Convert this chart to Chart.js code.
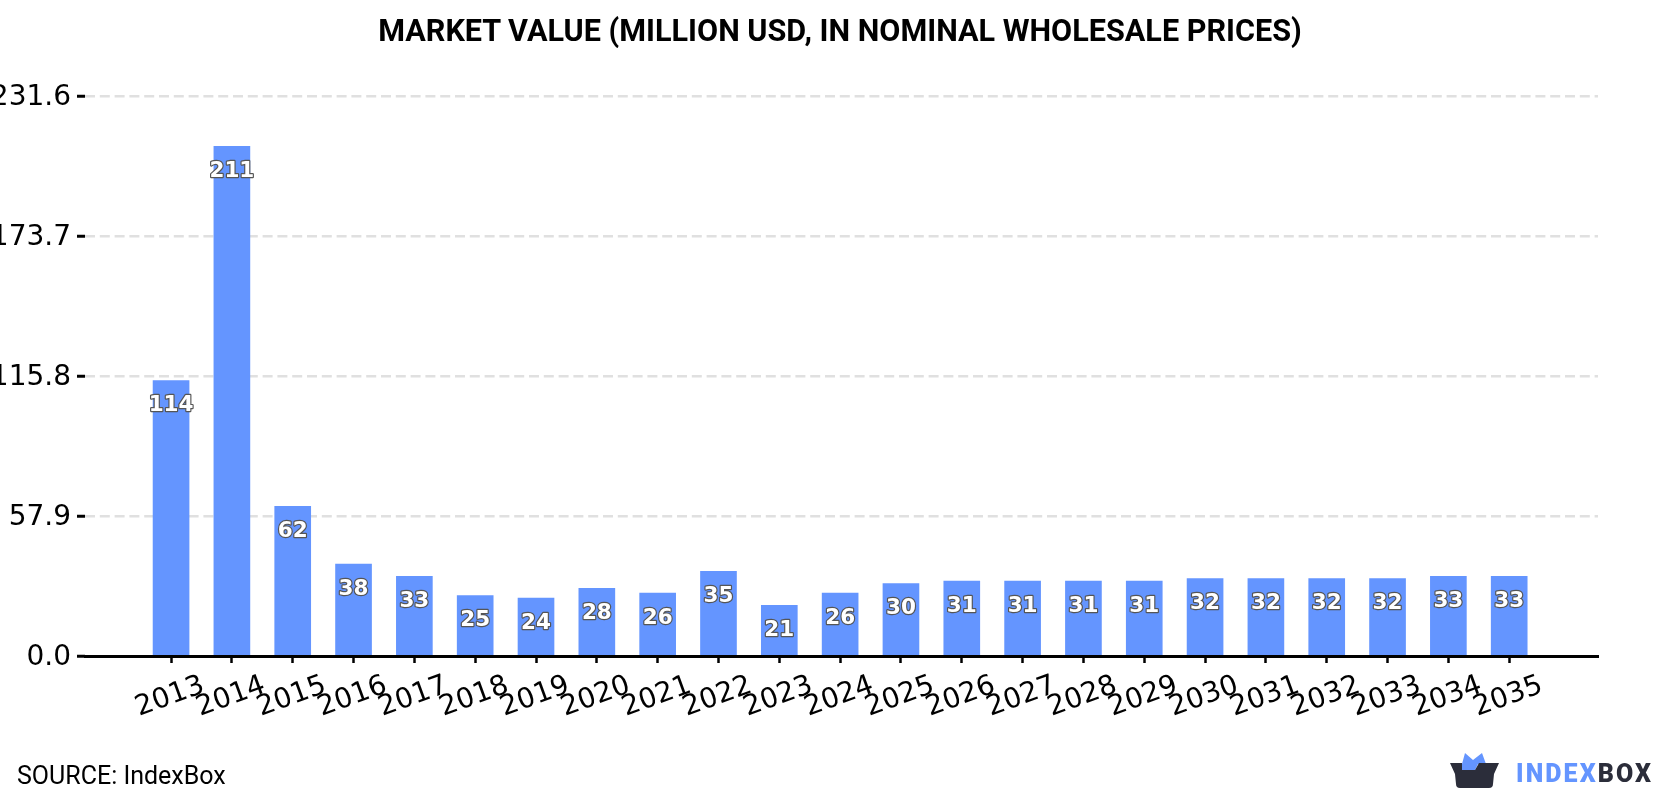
<!DOCTYPE html>
<html>
<head>
<meta charset="utf-8">
<title>Market value</title>
<script src="https://cdn.jsdelivr.net/npm/chart.js@4"></script>
<style>
    html, body { margin: 0; padding: 0; background: #fff; overflow: hidden; }
    #wrap { position: relative; width: 1680px; height: 800px; }
    #chart-title { position: absolute; left: 0; width: 1680px; top: 12px; text-align: center; font: bold 30.6px/38px Roboto, sans-serif; color: #000; }
    #source { position: absolute; left: 17px; top: 761px; font: 25px Roboto, sans-serif; color: #000; line-height: 30px; }
    #logo { position: absolute; left: 1450px; top: 750px; }
    #logo-text { position: absolute; left: 1516px; top: 758px; font: 900 25px/32px Roboto, sans-serif; letter-spacing: 2.1px; color: #6495ff; }
    #logo-text span { color: #2b2d3a; }
</style>
</head>
<body>
<div id="wrap">
    <canvas id="chart" width="1680" height="800"></canvas>
    <div id="chart-title">MARKET VALUE (MILLION USD, IN NOMINAL WHOLESALE PRICES)</div>
    <div id="source">SOURCE: IndexBox</div>
    <svg id="logo" width="50" height="42" viewBox="0 0 50 42">
        <path d="M12 14 L15 3 L23 10 L32 3 L36 14 L28 14 L25 20 L12 20 Z" fill="#6495ff"/>
        <path d="M0 13 L12 13 L12 20 L25 20 L29 13 L49 13 L44 24 L43 34 Q43 38 39 38 L10 38 Q6 38 6 34 L5 24 Z" fill="#2b2d3a"/>
    </svg>
    <div id="logo-text">INDEX<span>BOX</span></div>
</div>
<script>
const years = [2013, 2014, 2015, 2016, 2017, 2018, 2019, 2020, 2021, 2022, 2023, 2024,
               2025, 2026, 2027, 2028, 2029, 2030, 2031, 2032, 2033, 2034, 2035];
const values = [114, 211, 62, 38, 33, 25, 24, 28, 26, 35, 21, 26,
                30, 31, 31, 31, 31, 32, 32, 32, 32, 33, 33];
const yTicks = [0, 57.9, 115.8, 173.7, 231.6];

const TICK_FONT = '28px "DejaVu Sans"';

// Year labels sit centred under their tick and rotated, which the built-in ticks can't do
const yearLabels = {
    id: 'yearLabels',
    afterDraw(chart) {
        const ctx = chart.ctx;
        const xScale = chart.scales.x;
        ctx.save();
        ctx.font = TICK_FONT;
        ctx.fillStyle = '#000';
        ctx.textAlign = 'center';
        ctx.textBaseline = 'middle';
        years.forEach(year => {
            ctx.save();
            ctx.translate(xScale.getPixelForValue(year) - 1, xScale.top + 41);
            ctx.rotate(-20 * Math.PI / 180);
            ctx.fillText(String(year), 0, 0);
            ctx.restore();
        });
        ctx.restore();
    }
};

// White value labels with a grey outline, just inside the top of each bar
const barLabels = {
    id: 'barLabels',
    afterDatasetsDraw(chart) {
        const ctx = chart.ctx;
        ctx.save();
        ctx.font = 'bold 21.5px "DejaVu Sans"';
        ctx.textAlign = 'center';
        ctx.textBaseline = 'middle';
        ctx.lineJoin = 'round';
        chart.getDatasetMeta(0).data.forEach((bar, i) => {
            const label = String(values[i]);
            ctx.lineWidth = 2.4;
            ctx.strokeStyle = '#555';
            ctx.strokeText(label, bar.x, bar.y + 25);
            ctx.fillStyle = '#fff';
            ctx.fillText(label, bar.x, bar.y + 25);
        });
        ctx.restore();
    }
};

new Chart(document.getElementById('chart'), {
    type: 'bar',
    data: {
        datasets: [{
            data: years.map((year, i) => ({ x: year, y: values[i] })),
            backgroundColor: '#6495ff',
            barThickness: 36
        }]
    },
    options: {
        responsive: false,
        animation: false,
        layout: { padding: { left: 0, right: 82, top: 96.5, bottom: 0 } },
        plugins: {
            legend: { display: false },
            tooltip: { enabled: false }
        },
        scales: {
            x: {
                type: 'linear',
                offset: false,
                min: 2011.585,
                max: 2036.46,
                afterBuildTicks(scale) { scale.ticks = years.map(value => ({ value })); },
                afterFit(scale) { scale.height = 144; },
                border: { color: '#000', width: 3 },
                grid: { offset: false, drawOnChartArea: false, tickColor: '#000', tickLength: 7, tickWidth: 2.5 },
                ticks: { display: false }
            },
            y: {
                min: 0,
                max: 231.6,
                afterBuildTicks(scale) { scale.ticks = yTicks.map(value => ({ value })); },
                afterFit(scale) { scale.width = 85; },
                border: { display: false, dash: [10, 4.8] },
                grid: {
                    color: '#e0e0e0',
                    lineWidth: 2.5,
                    tickColor: '#000',
                    tickLength: 8,
                    tickWidth: 3
                },
                ticks: {
                    color: '#000',
                    font: { family: 'DejaVu Sans', size: 28 },
                    padding: 6,
                    labelOffset: 1.5,
                    callback: value => value.toFixed(1)
                }
            }
        }
    },
    plugins: [yearLabels, barLabels]
});
</script>
</body>
</html>
